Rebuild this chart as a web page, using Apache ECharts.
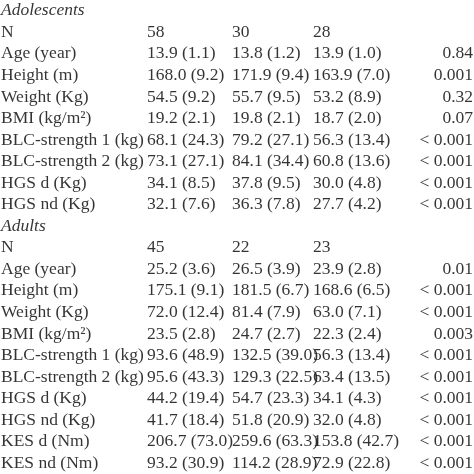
<!DOCTYPE html>
<html><head><meta charset="utf-8">
<script src="https://cdn.jsdelivr.net/npm/echarts@6/dist/echarts.min.js"></script>
<style>html,body{margin:0;padding:0;background:#fff}#c{width:474px;height:474px}</style>
</head><body><div id="c"></div>
<script>
const rowLabels = ["Adolescents","N","Age (year)","Height (m)","Weight (Kg)","BMI (kg/m²)","BLC-strength 1 (kg)","BLC-strength 2 (kg)","HGS d (Kg)","HGS nd (Kg)",
"Adults","N","Age (year)","Height (m)","Weight (Kg)","BMI (kg/m²)","BLC-strength 1 (kg)","BLC-strength 2 (kg)","HGS d (Kg)","HGS nd (Kg)","KES d (Nm)","KES nd (Nm)"];
const colAll = ["","58","13.9 (1.1)","168.0 (9.2)","54.5 (9.2)","19.2 (2.1)","68.1 (24.3)","73.1 (27.1)","34.1 (8.5)","32.1 (7.6)",
"","45","25.2 (3.6)","175.1 (9.1)","72.0 (12.4)","23.5 (2.8)","93.6 (48.9)","95.6 (43.3)","44.2 (19.4)","41.7 (18.4)","206.7 (73.0)","93.2 (30.9)"];
const colMale = ["","30","13.8 (1.2)","171.9 (9.4)","55.7 (9.5)","19.8 (2.1)","79.2 (27.1)","84.1 (34.4)","37.8 (9.5)","36.3 (7.8)",
"","22","26.5 (3.9)","181.5 (6.7)","81.4 (7.9)","24.7 (2.7)","132.5 (39.0)","129.3 (22.5)","54.7 (23.3)","51.8 (20.9)","259.6 (63.3)","114.2 (28.9)"];
const colFemale = ["","28","13.9 (1.0)","163.9 (7.0)","53.2 (8.9)","18.7 (2.0)","56.3 (13.4)","60.8 (13.6)","30.0 (4.8)","27.7 (4.2)",
"","23","23.9 (2.8)","168.6 (6.5)","63.0 (7.1)","22.3 (2.4)","56.3 (13.4)","63.4 (13.5)","34.1 (4.3)","32.0 (4.8)","153.8 (42.7)","72.9 (22.8)"];
const pValues = ["","","0.84","0.001","0.32","0.07","< 0.001","< 0.001","< 0.001","< 0.001",
"","","0.01","< 0.001","< 0.001","0.003","< 0.001","< 0.001","< 0.001","< 0.001","< 0.001","< 0.001"];

const colX = [1, 147, 232, 313, 473];
const cols = [rowLabels, colAll, colMale, colFemale, pValues];
const rows = rowLabels.map((_, i) => String(i));
const font = "Liberation Serif";
const series = cols.map((arr, c) => ({
  type: 'scatter', symbolSize: 0, silent: true,
  data: arr.map((t, i) => ({ value: [colX[c], rows[i]], name: t,
    label: { fontStyle: (c === 0 && (i === 0 || i === 10)) ? 'italic' : 'normal' } })),
  label: { show: true, position: 'inside', formatter: p => p.name,
    align: c === 4 ? 'right' : 'left', verticalAlign: 'middle',
    fontFamily: font, fontSize: 17.5, color: '#000' }
}));
const chart = echarts.init(document.getElementById('c'));
chart.setOption({
  animation: false,
  grid: { left: 0, right: 0, top: -1, bottom: -3 },
  xAxis: { type: 'value', min: 0, max: 474, show: false },
  yAxis: { type: 'category', data: rows, inverse: true, show: false },
  series
});
</script></body></html>
